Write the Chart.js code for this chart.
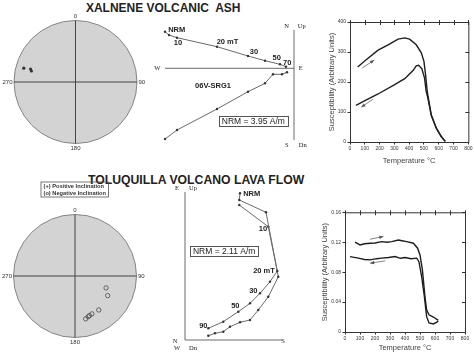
<!DOCTYPE html>
<html>
<head>
<meta charset="utf-8">
<script src="https://cdn.jsdelivr.net/npm/chart.js@4.4.1/dist/chart.umd.min.js"></script>
<style>
  body { margin: 0; width: 474px; height: 353px; position: relative; overflow: hidden; background: #fff; font-family: "Liberation Sans", Arial, sans-serif; color: #222; }
  canvas { position: absolute; }
  .title { position: absolute; font-weight: bold; font-size: 13px; line-height: 13px; white-space: nowrap; transform-origin: 0 0; }
</style>
</head>
<body>
<div class="title" style="left:86px;top:1px;transform:scaleX(0.92)">XALNENE VOLCANIC&nbsp; ASH</div>
<div class="title" style="left:88px;top:173px;transform:scaleX(0.94)">TOLUQUILLA VOLCANO LAVA FLOW</div>
<canvas id="net1" width="152" height="150" style="left:0;top:8px"></canvas>
<canvas id="net2" width="152" height="175" style="left:0;top:178px"></canvas>
<canvas id="zij1" width="160" height="140" style="left:150px;top:15px"></canvas>
<canvas id="zij2" width="140" height="175" style="left:165px;top:180px"></canvas>
<canvas id="sus1" width="158" height="160" style="left:316px;top:14px"></canvas>
<canvas id="sus2" width="163" height="152" style="left:311px;top:204px"></canvas>
<script>
/* globals Chart:false */

// Stereonets: declination / inclination in degrees (negative = upper hemisphere)
const netLabels = ['0', '90', '180', '270']
const xalDec = [284, 286, 285]
const xalInc = [27, 25, 14]
const tolDec = [111, 121, 145, 156, 160, 162, 166]
const tolInc = [-45, -38, -33, -33, -32, -31, -29]
const keyLines = ['(+) Positive Inclination', '(o) Negative Inclination']

// Zijderveld, Xalnene ash (horizontal axis W-E)
const xalHorE = [-129, -125, -117, -77, -46, -29, -14, -8]
const xalHorN = [36.6, 33.3, 30.6, 21.6, 12.3, 7.6, 4, 1.6]
const xalVerE = [-129, -117, -77, -46, -29, -21, -12, -7]
const xalVerUp = [-70.7, -61.7, -40.7, -23.4, -15, -6, -6, -4]
const xalSteps = ['NRM', '10', '20 mT', '30', '50', '70']

// Zijderveld, Toluquilla lava (horizontal axis N-S)
const tolAS = [55, 54.3, 81, 92.3, 85, 75, 65, 53.3, 38.3, 23.3]
const tolAE = [146.7, 140, 127.7, 69, 58.3, 46.7, 36.7, 28.3, 18.3, 11.7]
const tolBS = [54.3, 83.3, 93.3, 83.3, 73.3, 65, 55, 45, 38.3, 30, 23.3]
const tolBE = [135, 113.3, 63.3, 43.3, 30, 20, 17.7, 13.3, 8.3, 6.7, 4.3]
const tolSteps = ['NRM', '10', '20 mT', '30', '50', '90']

// Susceptibility vs temperature
const xalHeatT = [52, 101, 190, 258, 325, 370, 403, 448, 482, 500, 511, 522, 549, 583, 616, 643]
const xalHeatK = [250, 271, 306, 324, 343, 347, 343, 324, 297, 269, 224, 169, 91, 47, 19, 2]
const xalCoolT = [40, 101, 190, 302, 370, 426, 448, 464, 486, 504, 515, 525, 550, 585, 618, 645]
const xalCoolK = [122, 138, 160, 191, 211, 238, 254, 256, 244, 213, 169, 150, 88, 44, 17, 2]
const tolHeatT = [67, 100, 130, 167, 200, 244, 280, 311, 356, 380, 411, 456, 484, 500, 516, 533, 544, 560, 589, 622]
const tolHeatK = [0.120, 0.1164, 0.118, 0.1187, 0.119, 0.1208, 0.120, 0.1208, 0.123, 0.122, 0.1208, 0.1187, 0.112, 0.103, 0.083, 0.0475, 0.0297, 0.023, 0.020, 0.0155]
const tolCoolT = [33, 89, 130, 167, 210, 244, 290, 333, 370, 400, 440, 478, 493, 511, 529, 544, 560, 589, 622]
const tolCoolK = [0.1008, 0.0987, 0.097, 0.0964, 0.098, 0.0987, 0.0995, 0.1008, 0.0985, 0.0995, 0.098, 0.0987, 0.094, 0.074, 0.0475, 0.0208, 0.012, 0.0107, 0.0141]

const pts = (xs, ys) => xs.map((v, i) => ({ x: v, y: ys[i] }))

// equal-area (Schmidt) projection
function project (dec, inc) {
  return dec.map((d, i) => {
    const r = Math.SQRT2 * Math.sin((90 - Math.abs(inc[i])) / 2 * Math.PI / 180)
    const a = d * Math.PI / 180
    return { x: r * Math.sin(a), y: r * Math.cos(a) }
  })
}

const netPlugin = {
  id: 'net',
  beforeDatasetsDraw (chart, args, o) {
    const { ctx, scales: { x, y } } = chart
    const cx = x.getPixelForValue(0)
    const cy = y.getPixelForValue(0)
    const r = x.getPixelForValue(1) - cx
    ctx.save()
    ctx.beginPath()
    ctx.arc(cx, cy, r, 0, Math.PI * 2)
    ctx.fillStyle = '#d3d3d3'
    ctx.fill()
    ctx.strokeStyle = '#858585'
    ctx.lineWidth = 1
    ctx.stroke()
    ctx.beginPath()
    ctx.moveTo(cx - r, cy); ctx.lineTo(cx + r, cy)
    ctx.moveTo(cx, cy - r); ctx.lineTo(cx, cy + r)
    ctx.strokeStyle = '#444'
    ctx.stroke()
    ctx.fillStyle = '#333'
    ctx.font = '6px "Liberation Sans"'
    ctx.textBaseline = 'middle'
    ctx.textAlign = 'center'
    ctx.fillText(netLabels[0], cx, cy - r - 4)
    ctx.fillText(netLabels[2], cx, cy + r + 5)
    ctx.textAlign = 'left'
    ctx.fillText(netLabels[1], cx + r + 1.5, cy)
    ctx.textAlign = 'right'
    ctx.fillText(netLabels[3], cx - r - 1.5, cy)
    if (o.key) {
      ctx.font = 'bold 5.7px "Liberation Sans"'
      ctx.textAlign = 'left'
      const w = Math.max(...o.key.map(t => ctx.measureText(t).width))
      ctx.strokeStyle = '#555'
      ctx.lineWidth = 0.8
      ctx.strokeRect(o.keyAt[0], o.keyAt[1], w + 5, 15)
      o.key.forEach((t, i) => ctx.fillText(t, o.keyAt[0] + 2.5, o.keyAt[1] + 4 + i * 7))
    }
    ctx.restore()
  }
}

const notesPlugin = {
  id: 'notes',
  beforeDatasetsDraw (chart, args, o) {
    const { ctx, scales: { x, y } } = chart
    ctx.save()
    ctx.strokeStyle = '#6a6a6a'
    ctx.lineWidth = 1
    for (const l of o.lines || []) {
      ctx.beginPath()
      ctx.moveTo(x.getPixelForValue(l[0]), y.getPixelForValue(l[1]))
      ctx.lineTo(x.getPixelForValue(l[2]), y.getPixelForValue(l[3]))
      ctx.stroke()
    }
    ctx.restore()
  },
  afterDatasetsDraw (chart, args, o) {
    const { ctx, scales: { x, y } } = chart
    ctx.save()
    ctx.textBaseline = 'middle'
    ctx.textAlign = 'center'
    for (const n of o.items || []) {
      const px = x.getPixelForValue(n.x)
      const py = y.getPixelForValue(n.y)
      ctx.font = n.font
      ctx.fillStyle = '#222'
      ctx.fillText(n.text, px, py)
      if (n.box) {
        const w = ctx.measureText(n.text).width
        ctx.strokeStyle = '#555'
        ctx.lineWidth = 1
        ctx.strokeRect(Math.round(px - w / 2 - 3) + 0.5, Math.round(py - 5.5) + 0.5, Math.round(w + 6), 10)
      }
    }
    ctx.restore()
  }
}

const framePlugin = {
  id: 'frame',
  afterDraw (chart) {
    const { ctx, chartArea: a, scales: { x, y } } = chart
    ctx.save()
    ctx.strokeStyle = '#333'
    ctx.lineWidth = 1
    ctx.beginPath()
    ctx.moveTo(a.left, a.top + 0.5); ctx.lineTo(a.right + 0.5, a.top + 0.5)
    ctx.lineTo(a.right + 0.5, a.bottom)
    for (const t of x.ticks) {
      const px = Math.round(x.getPixelForValue(t.value)) + 0.5
      ctx.moveTo(px, a.top - 2); ctx.lineTo(px, a.top + 3)
    }
    for (const t of y.ticks) {
      const py = Math.round(y.getPixelForValue(t.value)) + 0.5
      ctx.moveTo(a.right - 3, py); ctx.lineTo(a.right + 1, py)
    }
    ctx.stroke()
    // arrowheads on the direction markers
    chart.data.datasets.forEach((ds, i) => {
      if (!ds.arrow) return
      const d = chart.getDatasetMeta(i).data
      const p1 = d[d.length - 2]
      const p2 = d[d.length - 1]
      const ang = Math.atan2(p2.y - p1.y, p2.x - p1.x)
      ctx.beginPath()
      ctx.moveTo(p2.x, p2.y)
      ctx.lineTo(p2.x - 4.5 * Math.cos(ang - 0.4), p2.y - 4.5 * Math.sin(ang - 0.4))
      ctx.lineTo(p2.x - 4.5 * Math.cos(ang + 0.4), p2.y - 4.5 * Math.sin(ang + 0.4))
      ctx.closePath()
      ctx.fillStyle = '#555'
      ctx.fill()
    })
    ctx.restore()
  }
}

const base = { responsive: false, animation: false, events: [] }

function hidden (min, max) {
  return { type: 'linear', display: false, min, max }
}

function netChart (id, data, style, pad, opts) {
  return new Chart(document.getElementById(id), {
    type: 'scatter',
    data: { datasets: [Object.assign({ data }, style)] },
    options: Object.assign({}, base, {
      layout: { padding: pad },
      scales: { x: hidden(-1, 1), y: hidden(-1, 1) },
      plugins: { legend: { display: false }, tooltip: { enabled: false }, net: opts }
    }),
    plugins: [netPlugin]
  })
}

netChart('net1', project(xalDec, xalInc),
  { pointRadius: 1.6, pointBackgroundColor: '#333', pointBorderColor: '#333', pointBorderWidth: 0 },
  { left: 14, right: 15, top: 12.5, bottom: 14.5 }, {})

netChart('net2', project(tolDec, tolInc),
  { pointRadius: 2.2, pointBackgroundColor: 'rgba(0,0,0,0)', pointBorderColor: '#4a4a4a', pointBorderWidth: 0.8 },
  { left: 13.5, right: 15.5, top: 36.5, bottom: 15.5 }, { key: keyLines, keyAt: [41, 4] })

const zijLine = { showLine: true, borderColor: '#6a6a6a', borderWidth: 1, pointRadius: 1.2, pointBackgroundColor: '#333', pointBorderWidth: 0 }
const stepFont = 'bold 7.5px "Liberation Sans"'
const dirFont = '6.5px "Liberation Serif"'
const boxFont = '8.5px "Liberation Sans"'

function zijChart (id, sets, sx, sy, pad, notes) {
  return new Chart(document.getElementById(id), {
    type: 'scatter',
    data: { datasets: sets.map(d => Object.assign({ data: d }, zijLine)) },
    options: Object.assign({}, base, {
      layout: { padding: pad },
      scales: { x: hidden(sx[0], sx[1]), y: hidden(sy[0], sy[1]) },
      plugins: { legend: { display: false }, tooltip: { enabled: false }, notes }
    }),
    plugins: [notesPlugin]
  })
}

zijChart('zij1', [pts(xalHorE, xalHorN), pts(xalVerE, xalVerUp)], [-134, 6], [-76.7, 46.3],
  { left: 10, right: 10, top: 7, bottom: 10 }, {
    lines: [[-129, 0, 0, 0], [0, 38.3, 0, -71.7]],
    items: [
      { text: xalSteps[0], x: -117.3, y: 38.8, font: stepFont },
      { text: xalSteps[1], x: -116, y: 25.8, font: stepFont },
      { text: xalSteps[2], x: -66.5, y: 26, font: stepFont },
      { text: xalSteps[3], x: -40, y: 16.6, font: stepFont },
      { text: xalSteps[4], x: -17.3, y: 10.3, font: stepFont },
      { text: xalSteps[5], x: -6.8, y: 5.5, font: stepFont },
      { text: '06V-SRG1', x: -81, y: -17.8, font: stepFont },
      { text: 'NRM = 3.95 A/m', x: -40.7, y: -53.4, font: boxFont, box: true },
      { text: 'N', x: -7.3, y: 41.6, font: dirFont },
      { text: 'Up', x: 7.7, y: 41.6, font: dirFont },
      { text: 'W', x: -136.7, y: 0, font: dirFont },
      { text: 'E', x: 6.7, y: 0.5, font: dirFont },
      { text: 'S', x: -7.3, y: -76.7, font: dirFont },
      { text: 'Dn', x: 8.7, y: -76.7, font: dirFont }
    ]
  })

zijChart('zij2', [pts(tolAS, tolAE), pts(tolBS, tolBE)], [-10, 105], [-10, 155],
  { left: 10, right: 15, top: 5, bottom: 5 }, {
    lines: [[0, 0, 0, 148], [0, 0, 97, 0]],
    items: [
      { text: tolSteps[0], x: 66.7, y: 146.5, font: stepFont },
      { text: tolSteps[1], x: 78, y: 111, font: stepFont },
      { text: tolSteps[2], x: 79, y: 69.3, font: stepFont },
      { text: tolSteps[3], x: 68.3, y: 49.3, font: stepFont },
      { text: tolSteps[4], x: 50.3, y: 34, font: stepFont },
      { text: tolSteps[5], x: 18.3, y: 14, font: stepFont },
      { text: 'NRM = 2.11 A/m', x: 39.2, y: 88.7, font: boxFont, box: true },
      { text: 'E', x: -8, y: 152, font: dirFont },
      { text: 'Up', x: 8, y: 152, font: dirFont },
      { text: 'N', x: -10, y: -1, font: dirFont },
      { text: 'W', x: -8, y: -8, font: dirFont },
      { text: 'Dn', x: 8, y: -8, font: dirFont },
      { text: 'S', x: 98, y: -1.5, font: dirFont }
    ]
  })

const curve = { showLine: true, pointRadius: 0, borderColor: '#1e1e1e', borderWidth: 1.4 }
const arrowLine = { showLine: true, pointRadius: 0, borderColor: '#666', borderWidth: 0.8, arrow: true }
const tickFont = { size: 5, family: '"Liberation Sans"' }
const titleFont = { size: 7.5, family: '"Liberation Sans"' }

function susChart (id, sets, ymax, ystep, yfmt, pad, sizes) {
  return new Chart(document.getElementById(id), {
    type: 'scatter',
    data: { datasets: sets },
    options: Object.assign({}, base, {
      layout: { padding: pad },
      scales: {
        x: {
          type: 'linear', min: 0, max: 800,
          ticks: { stepSize: 100, font: tickFont, color: '#333', padding: 1.5, maxRotation: 0, autoSkip: false },
          grid: { drawOnChartArea: false, tickLength: 2.5, color: '#333' },
          border: { color: '#333' },
          title: { display: true, text: 'Temperature °C', font: titleFont, color: '#444', padding: { top: 0, bottom: sizes.xTitle } },
          afterFit (s) { s.height = sizes.xh }
        },
        y: {
          type: 'linear', min: 0, max: ymax,
          ticks: { stepSize: ystep, font: tickFont, color: '#333', padding: 1.5, callback: yfmt },
          grid: { drawOnChartArea: false, tickLength: 2.5, color: '#333' },
          border: { color: '#333' },
          title: { display: true, text: 'Susceptibility (Arbitrary Units)', font: titleFont, color: '#444', padding: { top: sizes.yTitle, bottom: 0 } },
          afterFit (s) { s.width = sizes.yw }
        }
      },
      plugins: { legend: { display: false }, tooltip: { enabled: false } }
    }),
    plugins: [framePlugin]
  })
}

susChart('sus1', [
  Object.assign({ data: pts(xalHeatT, xalHeatK) }, curve),
  Object.assign({ data: pts(xalCoolT, xalCoolK) }, curve),
  Object.assign({ data: pts([83, 164], [247, 273]) }, arrowLine),
  Object.assign({ data: pts([157, 76], [143, 116]) }, arrowLine)
], 400, 100, v => String(v), { top: 8, right: 5 }, { xh: 32, yw: 34, xTitle: 8.5, yTitle: 11.5 })

susChart('sus2', [
  Object.assign({ data: pts(tolHeatT, tolHeatK) }, curve),
  Object.assign({ data: pts(tolCoolT, tolCoolK) }, curve),
  Object.assign({ data: pts([167, 256], [0.124, 0.1276]) }, arrowLine),
  Object.assign({ data: pts([267, 167], [0.095, 0.092]) }, arrowLine)
], 0.16, 0.04, v => (v === 0 ? '0' : v.toFixed(2)), { top: 8.3, right: 9 }, { xh: 24, yw: 34, xTitle: 3.5, yTitle: 9.5 })
</script>
</body>
</html>
